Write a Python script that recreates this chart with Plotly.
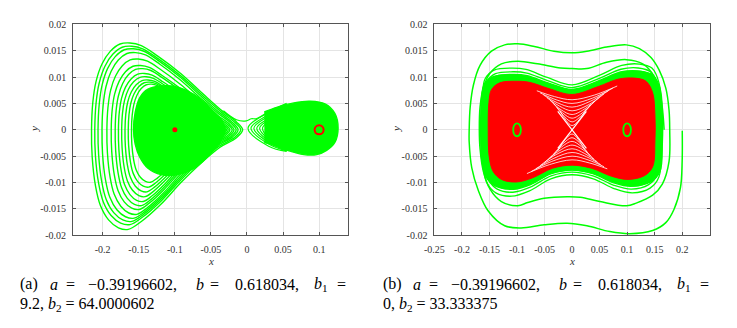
import plotly.graph_objects as go

W, H = 737, 328
GREEN = "#00ff00"
RED = "#ff0000"

# ---------------- panel (a) ----------------
# outermost loop of the left well, traced clockwise from its left extreme
a_outer_x = [-0.2155, -0.2137, -0.2092, -0.2010, -0.1896, -0.1760, -0.1623, -0.1465, -0.1237,
             -0.0919, -0.0600, -0.0327, -0.0146, -0.0060, -0.0146, -0.0374, -0.0646, -0.0919,
             -0.1190, -0.1465, -0.1646, -0.1782, -0.1919, -0.2032, -0.2100, -0.2146, -0.2155]
a_outer_y = [0.0, 0.0052, 0.0092, 0.0125, 0.0149, 0.0163, 0.0165, 0.0160, 0.0140,
             0.0107, 0.0067, 0.0034, 0.0015, 0.0, -0.0015, -0.0033, -0.0064, -0.0100,
             -0.0140, -0.0173, -0.0188, -0.0185, -0.0170, -0.0143, -0.0106, -0.0051, 0.0]
# boundary of the densely wound core of the left well
a_core_x = [-0.1573, -0.1550, -0.1486, -0.1373, -0.1190, -0.0964, -0.0736, -0.0509, -0.0350,
            -0.0305, -0.0350, -0.0509, -0.0736, -0.0964, -0.1190, -0.1373, -0.1486, -0.1550,
            -0.1573]
a_core_y = [0.0, 0.0033, 0.0061, 0.0077, 0.0083, 0.0081, 0.0067, 0.0041, 0.0018,
            0.0, -0.0018, -0.0046, -0.0073, -0.0085, -0.0085, -0.0073, -0.0052, -0.0027, 0.0]
a_focus = (-0.1, 0.0)

# extents of the successive loops around the left well
a_loop_left = [-0.2155, -0.2110, -0.2065, -0.2010, -0.1942, -0.1882, -0.1827, -0.1782,
               -0.1737, -0.1691, -0.1646, -0.1601]
a_loop_right = [-0.0060, -0.0087, -0.0123, -0.0150, -0.0180, -0.0205, -0.0237, -0.0260,
                -0.0282, -0.0300, -0.0315, -0.0327]
a_loop_top = [0.01646, 0.01584, 0.01536, 0.01464, 0.01341, 0.01219, 0.01159, 0.01068,
              0.01007, 0.00945, 0.00903, 0.00865]
a_loop_bottom = [-0.01889, -0.01797, -0.01737, -0.01675, -0.01603, -0.01511, -0.01438,
                 -0.01359, -0.01268, -0.01177, -0.01086, -0.00995]

# dense blob in the right well
a_blob_x = [0.0240, 0.0423, 0.0649, 0.0877, 0.1081, 0.1218, 0.1263, 0.1218, 0.1104, 0.0968,
            0.0786, 0.0559, 0.0331, 0.0240]
a_blob_y = [0.0034, 0.0043, 0.0051, 0.0054, 0.0049, 0.0031, 0.0003, -0.0024, -0.0039, -0.0047,
            -0.0047, -0.0039, -0.0027, -0.0024]
# fan of orbits leaving the blob toward the saddle
a_fan_vertex = [0.0014, 0.0055, 0.0095, 0.0135, 0.0175, 0.0215]
a_fan_y30 = [0.0033, 0.0029, 0.0026, 0.0022, 0.0019, 0.0016]
a_fan_y55 = [0.0050, 0.0048, 0.0046, 0.0044, 0.0042, 0.0040]
a_fan_y30_low = [-0.0031, -0.0027, -0.0024, -0.0021, -0.0018, -0.0015]
a_fan_y55_low = [-0.0041, -0.0040, -0.0039, -0.0038, -0.0037, -0.0036]
# orbit crossing over the saddle
a_cross_x = [-0.0327, -0.0146, -0.0010, 0.0060, 0.0126, 0.0300, 0.0500]
a_cross_y = [0.0036, 0.0019, 0.0017, 0.0021, 0.0021, 0.0034, 0.0046]
a_start = (0.1, 0.0)

# ---------------- panel (b) ----------------
# outer green orbit: starts at x = 0.2 and winds inward twice
b_spiral_x = [0.2002, 0.2000, 0.1970, 0.1851, 0.1703, 0.1464, 0.1045, 0.0687, 0.0269, -0.0090,
              -0.0507, -0.0926, -0.1224, -0.1523, -0.1703, -0.1822, -0.1869, -0.1869, -0.1851,
              -0.1792, -0.1672, -0.1464, -0.1224, -0.0986, -0.0686, -0.0328, 0.0, 0.0269, 0.0627,
              0.0986, 0.1224, 0.1434, 0.1583, 0.1703, 0.1762, 0.1774, 0.1762, 0.1640, 0.1464,
              0.1165, 0.0986, 0.0507, 0.0149, -0.0090, -0.0507, -0.0806, -0.0986, -0.1284,
              -0.1493, -0.1613, -0.1672, -0.1685, -0.1672, -0.1613, -0.1493, -0.1284, -0.0986,
              -0.0627, -0.0210, 0.0, 0.0269, 0.0627, 0.0986, 0.1284, 0.1493, 0.1613, 0.1673]
b_spiral_y = [-0.0002, -0.0060, -0.0109, -0.0151, -0.0176, -0.0191, -0.0197, -0.0193, -0.0182,
              -0.0177, -0.0180, -0.0186, -0.0182, -0.0154, -0.0115, -0.0072, -0.0023, 0.0, 0.0043,
              0.0085, 0.0122, 0.0149, 0.0161, 0.0163, 0.0158, 0.0149, 0.0146, 0.0149, 0.0157,
              0.0161, 0.0154, 0.0137, 0.0113, 0.0079, 0.0037, 0.0, -0.0060, -0.0103, -0.0124,
              -0.0139, -0.0144, -0.0136, -0.0128, -0.0127, -0.0130, -0.0138, -0.0144, -0.0136,
              -0.0112, -0.0078, -0.0036, 0.0, 0.0043, 0.0079, 0.0107, 0.0125, 0.0130, 0.0125,
              0.0117, 0.0116, 0.0116, 0.0128, 0.0133, 0.0125, 0.0101, 0.0061, 0.0]
# boundary of the red region
b_red_x = [-0.1016, -0.1314, -0.1464, -0.1510, -0.1523, -0.1505, -0.1434, -0.1284, -0.1016,
           -0.0717, -0.0358, 0.0, 0.0358, 0.0717, 0.1016, 0.1314, 0.1464, 0.1505, 0.1505,
           0.1464, 0.1344, 0.1135, 0.0837, 0.0478, 0.0, -0.0418, -0.0776, -0.1016]
b_red_y = [0.0092, 0.0089, 0.0076, 0.0052, 0.0, -0.0051, -0.0079, -0.0094, -0.0099,
           -0.0091, -0.0073, -0.0067, -0.0073, -0.0088, -0.0094, -0.0087, -0.0070, -0.0021,
           0.0028, 0.0070, 0.0092, 0.0098, 0.0096, 0.0082, 0.0067, 0.0078, 0.0090, 0.0092]
# inner green orbits crowding onto the red region: left edge and lobe height
b_loop_left = [-0.1643, -0.1613, -0.1598, -0.1583, -0.1568]
b_loop_top = [0.0117, 0.0110, 0.0105, 0.0103, 0.0099]
b_band = (-0.1660, 0.0104)
# gaps between red orbits near the saddle: ends, half-way points and centre heights
b_up_mid = [0.0008, 0.0015, 0.0022, 0.0029, 0.0036, 0.0043, 0.0050, 0.0057]
b_up_lx = [-0.022, -0.028, -0.034, -0.040, -0.046, -0.052, -0.058, -0.064]
b_up_ly = [0.0036, 0.0043, 0.0050, 0.0056, 0.0061, 0.0066, 0.0070, 0.0074]
b_up_lmy = [0.0018, 0.0025, 0.0032, 0.0038, 0.0045, 0.0051, 0.0057, 0.0063]
b_up_rx = [0.026, 0.034, 0.042, 0.050, 0.058, 0.066, 0.074, 0.082]
b_up_ry = [0.0040, 0.0048, 0.0055, 0.0062, 0.0068, 0.0074, 0.0079, 0.0083]
b_up_rmy = [0.0019, 0.0027, 0.0034, 0.0041, 0.0047, 0.0054, 0.0060, 0.0066]
b_lo_mid = [-0.0008, -0.0015, -0.0022, -0.0029, -0.0036, -0.0043, -0.0050, -0.0057]
b_lo_lx = [-0.026, -0.034, -0.042, -0.050, -0.058, -0.066, -0.074, -0.082]
b_lo_ly = [-0.0040, -0.0048, -0.0055, -0.0062, -0.0068, -0.0074, -0.0079, -0.0083]
b_lo_lmy = [-0.0019, -0.0027, -0.0034, -0.0041, -0.0047, -0.0054, -0.0060, -0.0066]
b_lo_rx = [0.022, 0.028, 0.034, 0.040, 0.046, 0.052, 0.058, 0.064]
b_lo_ry = [-0.0036, -0.0043, -0.0050, -0.0056, -0.0061, -0.0066, -0.0070, -0.0074]
b_lo_rmy = [-0.0018, -0.0025, -0.0032, -0.0038, -0.0045, -0.0051, -0.0057, -0.0063]
b_cross_x = [-0.026, 0.026]
b_cross_y = [0.0035, -0.0035]
# small green orbits at the two centres
b_ring_x = [0.0930, 0.0950, 0.1000, 0.1050, 0.1070, 0.1050, 0.1000, 0.0950, 0.0930]
b_ring_y = [0.0, 0.00088, 0.00122, 0.00088, 0.0, -0.00088, -0.00122, -0.00088, 0.0]
b_ring_centres = [-0.1, 0.1]

# axis ticks
y_ticks = [0.02, 0.015, 0.01, 0.005, 0, -0.005, -0.01, -0.015, -0.02]
y_labels = ["0.02", "0.015", "0.01", "0.005", "0", "-0.005", "-0.01", "-0.015", "-0.02"]
xa_ticks = [-0.2, -0.15, -0.1, -0.05, 0, 0.05, 0.1]
xa_labels = ["-0.2", "-0.15", "-0.1", "-0.05", "0", "0.05", "0.1"]
xb_ticks = [-0.25, -0.2, -0.15, -0.1, -0.05, 0, 0.05, 0.1, 0.15, 0.2]
xb_labels = ["-0.25", "-0.2", "-0.15", "-0.1", "-0.05", "0", "0.05", "0.1", "0.15", "0.2"]

fig = go.Figure()


def line(x, y, color=GREEN, width=1.4, xa="x", ya="y", fill=None, smooth=1.0):
    fig.add_trace(go.Scatter(
        x=x, y=y, mode="lines", xaxis=xa, yaxis=ya, hoverinfo="skip",
        line=dict(color=color, width=width, shape="spline", smoothing=smooth),
        fill=fill, fillcolor=color if fill else None, showlegend=False))


# left-well loops: the traced outer loop rescaled to each loop's extents
xc = a_focus[0]
t_left, t_right = min(a_outer_x), max(a_outer_x)
t_top, t_bot = max(a_outer_y), min(a_outer_y)


def left_loop(left, right, top, bottom):
    xs = [xc + (x - xc) * ((xc - left) / (xc - t_left) if x < xc else (right - xc) / (t_right - xc))
          for x in a_outer_x]
    ys = [y * (top / t_top if y > 0 else bottom / t_bot) for y in a_outer_y]
    return xs, ys


line(a_core_x, a_core_y, fill="toself")
for l, r, t, b in zip(a_loop_left, a_loop_right, a_loop_top, a_loop_bottom):
    lx, ly = left_loop(l, r, t, b)
    line(lx, ly)

line(a_blob_x, a_blob_y, fill="toself")
for v, u30, u55, d30, d55 in zip(a_fan_vertex, a_fan_y30, a_fan_y55, a_fan_y30_low, a_fan_y55_low):
    line([0.055, 0.03, v, 0.03, 0.055], [u55, u30, 0.0003, d30, d55], width=1.2)
line(a_cross_x, a_cross_y, width=1.2)

fig.add_trace(go.Scatter(x=[a_focus[0]], y=[a_focus[1]], mode="markers", hoverinfo="skip",
                         marker=dict(color=RED, size=5), showlegend=False))
fig.add_trace(go.Scatter(x=[a_start[0]], y=[a_start[1]], mode="markers", hoverinfo="skip",
                         marker=dict(symbol="circle-open", color=RED, size=9,
                                     line=dict(color=RED, width=2)), showlegend=False))

# panel (b)
red_left = min(b_red_x)
red_top = b_red_y[0]
bsx, bsy = b_band[0] / red_left, b_band[1] / red_top
line([x * bsx for x in b_red_x], [y * bsy for y in b_red_y], xa="x2", ya="y2", fill="toself")
line(b_red_x, b_red_y, color=RED, width=1, xa="x2", ya="y2", fill="toself")

for m, lx, ly, lmy, rx, ry, rmy in zip(b_up_mid, b_up_lx, b_up_ly, b_up_lmy, b_up_rx, b_up_ry, b_up_rmy):
    line([lx, lx / 2, 0, rx / 2, rx], [ly, lmy, m, rmy, ry], color="white", width=0.8, xa="x2", ya="y2")
for m, lx, ly, lmy, rx, ry, rmy in zip(b_lo_mid, b_lo_lx, b_lo_ly, b_lo_lmy, b_lo_rx, b_lo_ry, b_lo_rmy):
    line([lx, lx / 2, 0, rx / 2, rx], [ly, lmy, m, rmy, ry], color="white", width=0.8, xa="x2", ya="y2")
line(b_cross_x, b_cross_y, color="white", width=1.2, xa="x2", ya="y2")
line(b_cross_x, [-v for v in b_cross_y], color="white", width=1.2, xa="x2", ya="y2")

for l, t in zip(b_loop_left, b_loop_top):
    sx, sy = l / red_left, t / red_top
    line([x * sx for x in b_red_x], [y * sy for y in b_red_y], width=1.3, xa="x2", ya="y2")
line(b_spiral_x, b_spiral_y, width=1.5, xa="x2", ya="y2")

for c in b_ring_centres:
    line([c + (x - 0.1) for x in b_ring_x], b_ring_y, width=1.8, xa="x2", ya="y2")

axis_style = dict(showgrid=True, gridcolor="#e4e4e4", gridwidth=1, zeroline=False,
                  showline=True, linecolor="#555555", linewidth=1, mirror="ticks",
                  ticks="inside", ticklen=3, tickcolor="#555555",
                  tickfont=dict(family="Liberation Serif", size=10, color="#333333"))

y_dom = [1 - 238 / H, 1 - 19 / H]
fig.update_layout(
    width=W, height=H, margin=dict(l=0, r=0, t=0, b=0),
    paper_bgcolor="white", plot_bgcolor="white", showlegend=False,
    xaxis=dict(domain=[64 / W, 343 / W], range=[-0.241, 0.1405], anchor="y",
               tickvals=xa_ticks, ticktext=xa_labels, ticklabelstandoff=5, **axis_style),
    yaxis=dict(domain=y_dom, range=[-0.02, 0.02], anchor="x",
               tickvals=y_ticks, ticktext=y_labels, ticklabelstandoff=4, **axis_style),
    xaxis2=dict(domain=[430.3 / W, 709.3 / W], range=[-0.25, 0.25], anchor="y2",
                tickvals=xb_ticks, ticktext=xb_labels, ticklabelstandoff=5, **axis_style),
    yaxis2=dict(domain=y_dom, range=[-0.02, 0.02], anchor="x2",
                tickvals=y_ticks, ticktext=y_labels, ticklabelstandoff=4, **axis_style),
)

ann = []


def text(s, x, y, size=16, xanchor="left", angle=0, color="black"):
    ann.append(dict(text=s, x=x / W, y=1 - y / H, xref="paper", yref="paper",
                    xanchor=xanchor, yanchor="middle", showarrow=False, textangle=angle,
                    borderpad=0, font=dict(family="Liberation Serif", size=size, color=color)))


# axis labels
for cxp in (203.5, 570):
    text("<i>x</i>", cxp, 265, size=11, xanchor="center", color="#333333")
for cyp in (25, 392):
    text("<i>y</i>", cyp, 128, size=11, xanchor="center", angle=-90, color="#333333")

# captions
pieces = [("(a)", 9), ("<i>a</i>", 40), ("=", 56), ("\u22120.39196602,", 78), ("<i>b</i>", 188),
          ("=", 202), ("0.618034,", 227), ("<i>b</i><sub>1</sub>", 307), ("=", 330)]
for s, x in pieces:
    text(s, x, 289)
for s, x in pieces:
    text("(b)" if s == "(a)" else s, x + 368, 289)
text("9.2, <i>b</i><sub>2</sub> = 64.0000602", 9, 310)
text("0, <i>b</i><sub>2</sub> = 33.333375", 377, 310)

fig.update_layout(annotations=ann)
fig.write_html("out.html")
